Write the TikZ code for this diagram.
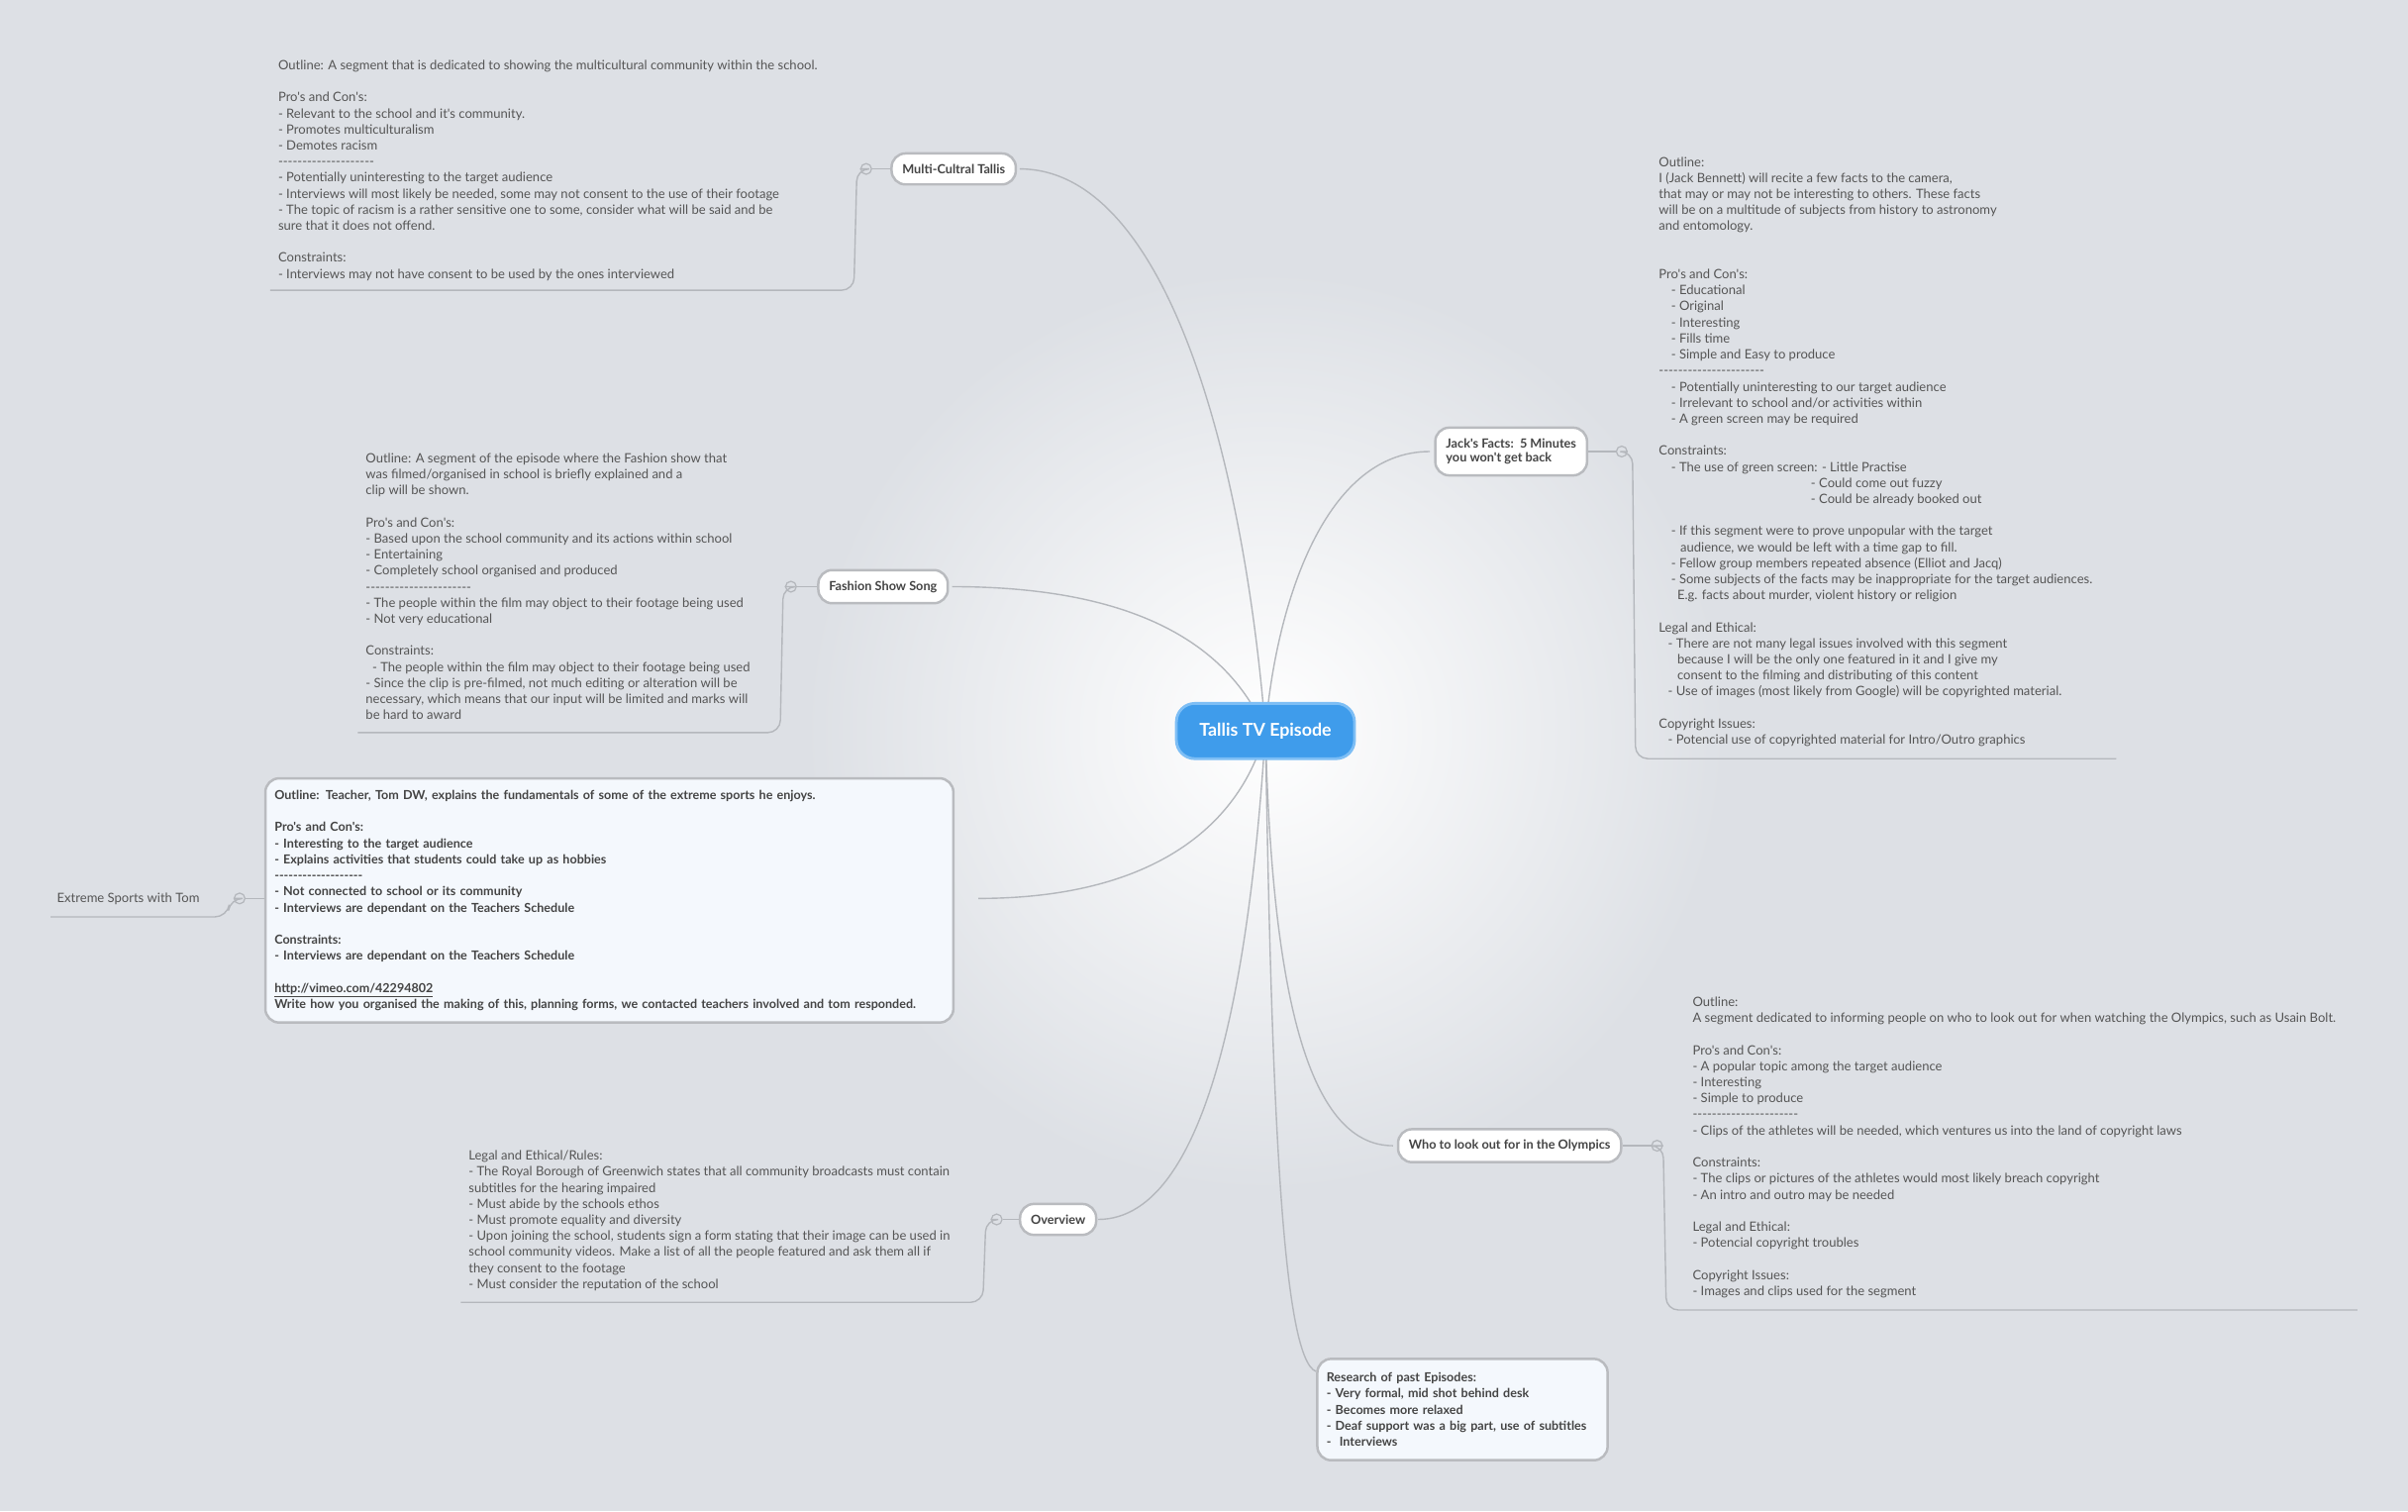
\documentclass[tikz,border=0pt]{standalone}
\usepackage{fontspec}
\setmainfont{Lato}[Ligatures=TeXOff]
\definecolor{bg}{HTML}{DDE0E5}
\definecolor{txt}{HTML}{555555}
\definecolor{ln}{HTML}{B4B7BC}
\definecolor{bd}{HTML}{B9BBBF}
\definecolor{cblue}{HTML}{3F9CEB}
\definecolor{cblueb}{HTML}{7DBEF5}
\definecolor{boxf}{HTML}{F4F8FD}
\begin{document}
\begin{tikzpicture}[x=1pt,y=-1pt,
  note/.style={anchor=north west,align=left,inner sep=0pt,text=txt,font=\fontsize{8.4}{10.45}\selectfont},
  topic/.style={draw=bd,line width=1.6pt,fill=white,rounded corners=9pt,inner xsep=7pt,inner ysep=7pt,font=\fontsize{8.2}{9.5}\selectfont\bfseries,text=txt!80!black,align=left},
  bnote/.style={draw=bd,line width=1.6pt,fill=boxf,rounded corners=9pt,anchor=north west,align=left,inner xsep=6pt,inner ysep=6pt,text=txt!80!black,font=\fontsize{8.1}{10.45}\selectfont\bfseries},
  dot/.style={circle,draw=ln,fill=bg,line width=0.8pt,minimum size=7pt,inner sep=0pt},
  conn/.style={draw=ln,line width=0.9pt},
  uline/.style={draw=ln,line width=0.9pt,rounded corners=8pt}]
\fill[bg] (0,0) rectangle (1568,984);
\useasboundingbox (0,0) rectangle (1568,984);
\shade[inner color=white,outer color=bg] (824,476) circle (300);

% center
\coordinate (cc) at (824,476);
\path[conn] (cc) .. controls (810,300) and (760,110) .. (664,110);
\path[conn] (cc) .. controls (830,400) and (860,294) .. (931,294);
\path[conn] (cc) .. controls (800,420) and (740,382) .. (620,382);
\path[conn] (cc) .. controls (810,530) and (760,585) .. (637,585);
\path[conn] (cc) .. controls (815,620) and (790,794) .. (715,794);
\path[conn] (cc) .. controls (828,640) and (850,746) .. (907,746);
\path[conn] (cc) .. controls (828,720) and (835,885) .. (857,893);

\node[fill=cblue,draw=cblueb,line width=1.8pt,rounded corners=12pt,minimum width=116pt,minimum height=36pt,text=white,font=\fontsize{11.5}{13}\selectfont\bfseries] (center) at (824,476) {Tallis TV Episode};

% Multi-Cultral
\node[topic] (mc) at (621,110) {Multi-Cultral Tallis};
\node[dot] (mcd) at (564,110) {};
\coordinate (mcu1) at (176,189);
\path[uline] (mcu1) -- (556,189) -- (558,110) -- (mcd);
\path[conn] (mcd) -- (mc.west);
\node[note] (mct) at (181,39) {Outline: A segment that is dedicated to showing the multicultural community within the school.\\[10.45pt]
Pro's and Con's:\\
- Relevant to the school and it's community.\\
- Promotes multiculturalism\\
- Demotes racism\\
--------------------\\
- Potentially uninteresting to the target audience\\
- Interviews will most likely be needed, some may not consent to the use of their footage\\
- The topic of racism is a rather sensitive one to some, consider what will be said and be\\
sure that it does not offend.\\[10.45pt]
Constraints:\\
- Interviews may not have consent to be used by the ones interviewed};

% Fashion
\node[topic] (fs) at (575,382) {Fashion Show Song};
\node[dot] (fsd) at (515,382) {};
\coordinate (fsu1) at (233,477);
\path[uline] (fsu1) -- (508,477) -- (510,382) -- (fsd);
\path[conn] (fsd) -- (fs.west);
\node[note] (fst) at (238,295) {Outline: A segment of the episode where the Fashion show that\\
was filmed/organised in school is briefly explained and a\\
clip will be shown.\\[10.45pt]
Pro's and Con's:\\
- Based upon the school community and its actions within school\\
- Entertaining\\
- Completely school organised and produced\\
----------------------\\
- The people within the film may object to their footage being used\\
- Not very educational\\[10.45pt]
Constraints:\\
\ \ - The people within the film may object to their footage being used\\
- Since the clip is pre-filmed, not much editing or alteration will be\\
necessary, which means that our input will be limited and marks will\\
be hard to award};

% Extreme sports
\node[bnote,text width=436pt,minimum height=159pt] (es) at (172,506) {Outline: Teacher, Tom DW, explains the fundamentals of some of the extreme sports he enjoys.\\[10.45pt]
Pro's and Con's:\\
- Interesting to the target audience\\
- Explains activities that students could take up as hobbies\\
-------------------\\
- Not connected to school or its community\\
- Interviews are dependant on the Teachers Schedule\\[10.45pt]
Constraints:\\
- Interviews are dependant on the Teachers Schedule\\[10.45pt]
\underline{http://vimeo.com/42294802}\\
Write how you organised the making of this, planning forms, we contacted teachers involved and tom responded.};
\node[dot] (esd) at (156,585) {};
\path[conn] (esd) -- (es.west |- esd);
\node[anchor=west,inner sep=0pt,text=txt,font=\fontsize{8.4}{9}\selectfont] (est) at (37,585) {Extreme Sports with Tom};
\path[uline] (33,597) -- (148,597) -- (150,585) -- (esd);

% Overview
\node[topic] (ov) at (689,794) {Overview};
\node[dot] (ovd) at (649,794) {};
\path[uline] (300,848) -- (640,848) -- (642,794) -- (ovd);
\path[conn] (ovd) -- (ov.west);
\node[note] (ovt) at (305,749) {Legal and Ethical/Rules:\\
- The Royal Borough of Greenwich states that all community broadcasts must contain\\
subtitles for the hearing impaired\\
- Must abide by the schools ethos\\
- Must promote equality and diversity\\
- Upon joining the school, students sign a form stating that their image can be used in\\
school community videos. Make a list of all the people featured and ask them all if\\
they consent to the footage\\
- Must consider the reputation of the school};

% Research
\node[bnote,text width=177pt,minimum height=66pt] (rs) at (857,884) {Research of past Episodes:\\
- Very formal, mid shot behind desk\\
- Becomes more relaxed\\
- Deaf support was a big part, use of subtitles\\
-\ \ Interviews};

% Jack's facts
\node[topic] (jf) at (984,294) {Jack's Facts:\ \ 5 Minutes\\you won't get back};
\node[dot] (jfd) at (1056,294) {};
\path[conn] (jf.east) -- (jfd);
\path[uline] (jfd) -- (1063,294) -- (1065,494) -- (1378,494);
\node[note] (jft) at (1080,102) {Outline:\\
I (Jack Bennett) will recite a few facts to the camera,\\
that may or may not be interesting to others. These facts\\
will be on a multitude of subjects from history to astronomy\\
and entomology.\\[20.9pt]
Pro's and Con's:\\
\hspace*{8pt}- Educational\\
\hspace*{8pt}- Original\\
\hspace*{8pt}- Interesting\\
\hspace*{8pt}- Fills time\\
\hspace*{8pt}- Simple and Easy to produce\\
----------------------\\
\hspace*{8pt}- Potentially uninteresting to our target audience\\
\hspace*{8pt}- Irrelevant to school and/or activities within\\
\hspace*{8pt}- A green screen may be required\\[10.45pt]
Constraints:\\
\hspace*{8pt}- The use of green screen: - Little Practise\\
\hspace*{99pt}- Could come out fuzzy\\
\hspace*{99pt}- Could be already booked out\\[10.45pt]
\hspace*{8pt}- If this segment were to prove unpopular with the target\\
\hspace*{14pt}audience, we would be left with a time gap to fill.\\
\hspace*{8pt}- Fellow group members repeated absence (Elliot and Jacq)\\
\hspace*{8pt}- Some subjects of the facts may be inappropriate for the target audiences.\\
\hspace*{12pt}E.g. facts about murder, violent history or religion\\[10.45pt]
Legal and Ethical:\\
\hspace*{6pt}- There are not many legal issues involved with this segment\\
\hspace*{12pt}because I will be the only one featured in it and I give my\\
\hspace*{12pt}consent to the filming and distributing of this content\\
\hspace*{6pt}- Use of images (most likely from Google) will be copyrighted material.\\[10.45pt]
Copyright Issues:\\
\hspace*{6pt}- Potencial use of copyrighted material for Intro/Outro graphics};

% Olympics
\node[topic] (ol) at (983,746) {Who to look out for in the Olympics};
\node[dot] (old) at (1079,746) {};
\path[conn] (ol.east) -- (old);
\path[uline] (old) -- (1083,746) -- (1085,853) -- (1535,853);
\node[note] (olt) at (1102,649) {Outline:\\
A segment dedicated to informing people on who to look out for when watching the Olympics, such as Usain Bolt.\\[10.45pt]
Pro's and Con's:\\
- A popular topic among the target audience\\
- Interesting\\
- Simple to produce\\
----------------------\\
- Clips of the athletes will be needed, which ventures us into the land of copyright laws\\[10.45pt]
Constraints:\\
- The clips or pictures of the athletes would most likely breach copyright\\
- An intro and outro may be needed\\[10.45pt]
Legal and Ethical:\\
- Potencial copyright troubles\\[10.45pt]
Copyright Issues:\\
- Images and clips used for the segment};
\end{tikzpicture}
\end{document}
